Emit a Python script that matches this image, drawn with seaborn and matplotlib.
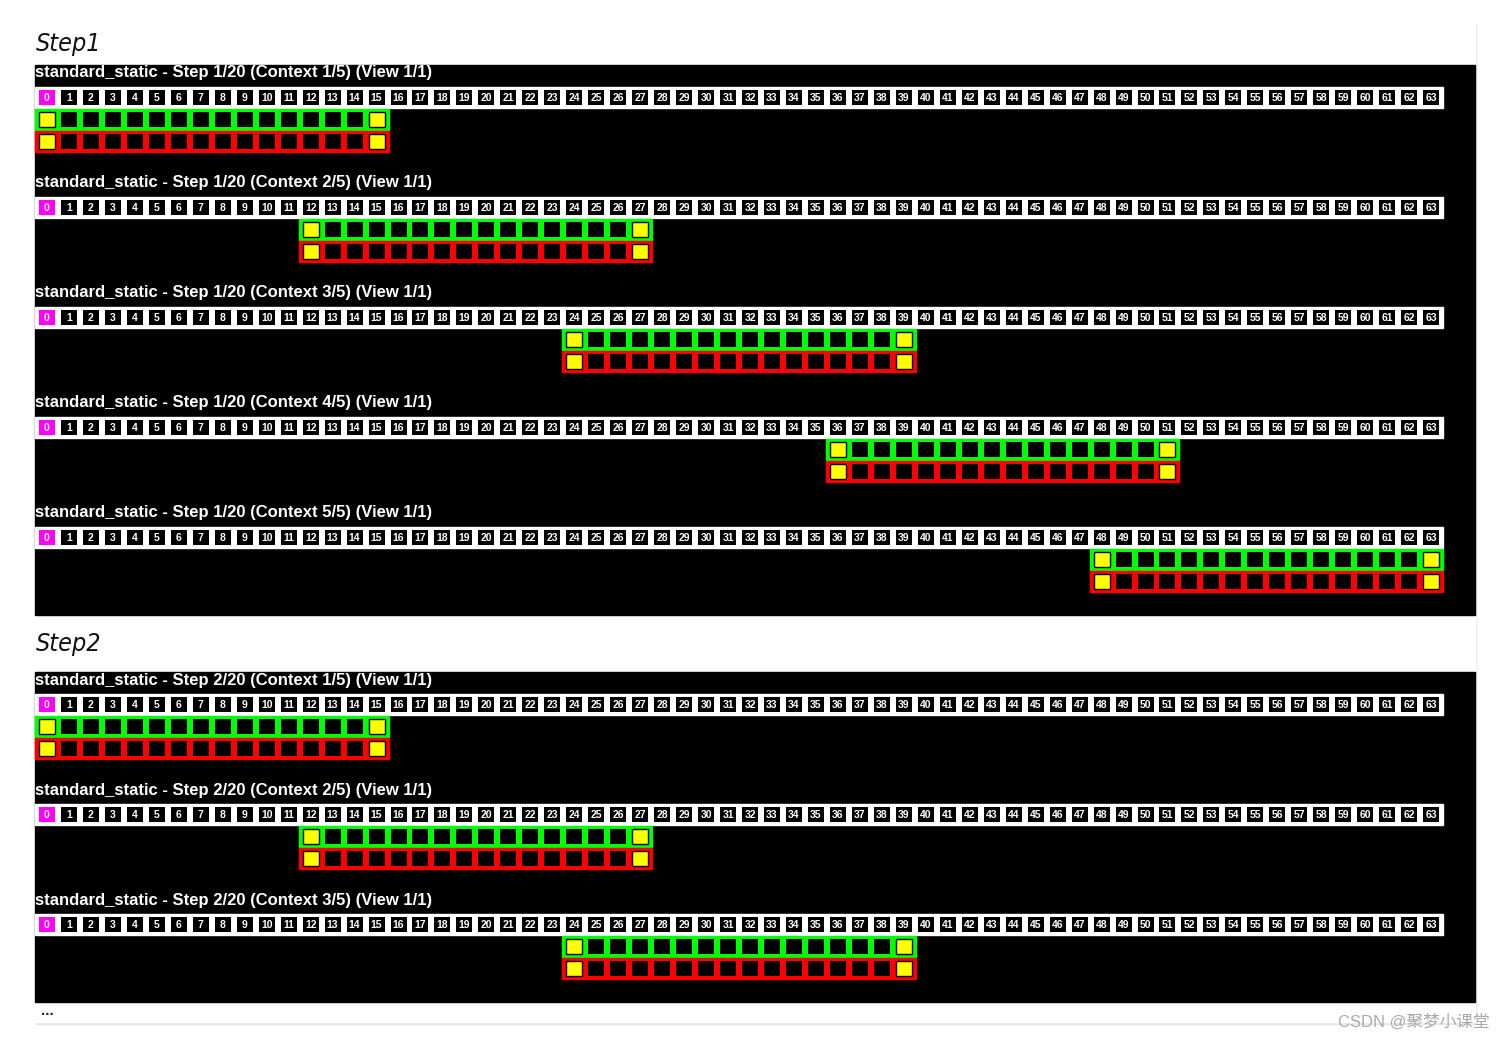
import matplotlib
matplotlib.use("Agg")
import matplotlib.pyplot as plt
from matplotlib.patches import Rectangle
import seaborn as sns

sns.set_theme(style="white")
plt.rcParams["font.family"] = ["Liberation Sans", "Noto Sans CJK SC", "DejaVu Sans"]

# data
n_tokens = 64
context_len = 16
context_stride = 12
n_contexts = 5
total_steps = 20
step_labels = ["Step1", "Step2"]
step_numbers = [1, 2]
contexts_shown = [5, 3]
watermark = "CSDN @聚梦小课堂"

# layout in pixels
W, H = 1507, 1042
left, right = 35, 1475
pitch = 21.97
x0 = 37
block_h = 110
header_h = [42, 57]

fig = plt.figure(figsize=(W / 100, H / 100), dpi=100)
ax = fig.add_axes([0, 0, 1, 1])
ax.set_xlim(0, W)
ax.set_ylim(H, 0)
ax.axis("off")

# card shadow + card
ax.add_patch(Rectangle((left + 1, 24), right - left, 1000, color="#e6e6e6", zorder=0))
ax.add_patch(Rectangle((left, 23), right - left, 999, color="white", zorder=1))


def draw_row(y, start, length, band, fill, ends=None, labels=False):
    ax.add_patch(Rectangle((x0 + pitch * start - 2, y), pitch * length + 2, 21,
                           color=band, zorder=2))
    for i in range(start, start + length):
        cx = x0 + pitch * i + 2
        c = fill
        if ends and i in (start, start + length - 1):
            c = ends
        if labels and i == 0:
            c = "#ff00ff"
        ec = "black" if c == "#ffff00" else "none"
        ax.add_patch(Rectangle((cx, y + 3), 16, 15, facecolor=c, edgecolor=ec,
                               lw=1, zorder=3))
        if labels:
            ax.text(cx + 8, y + 11, str(i), color="white", fontsize=7.5,
                    fontweight="bold", ha="center", va="center", zorder=4)


y = 23
for label, step, shown, hh in zip(step_labels, step_numbers, contexts_shown, header_h):
    ax.text(left + 1, y + hh / 2, label, fontsize=18, style="italic",
            family=["DejaVu Sans"], fontstretch="condensed", color="#111111",
            va="center", zorder=3)
    top = y + hh
    height = shown * block_h
    ax.add_patch(Rectangle((left, top), right - left, height, color="black", zorder=1.5))
    for k in range(shown):
        by = top + k * block_h
        ax.text(left, by + 8, f"standard_static - Step {step}/{total_steps} "
                f"(Context {k + 1}/{n_contexts}) (View 1/1)", color="white",
                fontsize=12, fontweight="bold", va="center", zorder=3)
        draw_row(by + 22, 0, n_tokens, "white", "black", labels=True)
        s = k * context_stride
        draw_row(by + 44, s, context_len, "#00ff00", "black", ends="#ffff00")
        draw_row(by + 66, s, context_len, "#ff0000", "black", ends="#ffff00")
    y = top + height

ax.text(left + 6, y + 9, "...", fontsize=11, fontweight="bold", va="center", zorder=3)
ax.text(1490, 1022, watermark, fontsize=12, color="#aaaaaa", ha="right",
        va="center", zorder=5)

fig.savefig("out.png", dpi=100)
